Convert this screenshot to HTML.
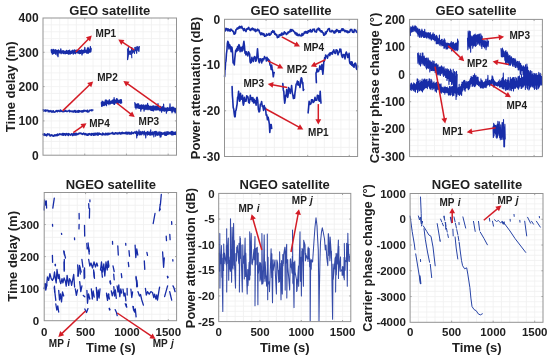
<!DOCTYPE html>
<html><head><meta charset="utf-8"><style>
html,body{margin:0;padding:0;background:#fff;}
svg{display:block;filter:blur(0.35px);}
</style></head><body>
<svg width="550" height="359" viewBox="0 0 550 359" font-family="'Liberation Sans', sans-serif" font-weight="bold">
<rect width="550" height="359" fill="#fff"/>
<path d="M51.34 18V155.2M59.69 18V155.2M68.03 18V155.2M76.38 18V155.2M84.72 18V155.2M93.06 18V155.2M101.41 18V155.2M109.75 18V155.2M118.09 18V155.2M126.44 18V155.2M134.78 18V155.2M143.12 18V155.2M151.47 18V155.2M159.81 18V155.2M168.16 18V155.2M43 24.86H176.5M43 31.72H176.5M43 38.58H176.5M43 45.44H176.5M43 52.3H176.5M43 59.16H176.5M43 66.02H176.5M43 72.88H176.5M43 79.74H176.5M43 86.6H176.5M43 93.46H176.5M43 100.32H176.5M43 107.18H176.5M43 114.04H176.5M43 120.9H176.5M43 127.76H176.5M43 134.62H176.5M43 141.48H176.5M43 148.34H176.5" stroke="#f0f0f0" stroke-width="0.8" fill="none"/>
<path d="M84.72 155.2v-1.6M84.72 18v1.6M126.44 155.2v-1.6M126.44 18v1.6M168.16 155.2v-1.6M168.16 18v1.6M43 52.3h1.6M176.5 52.3h-1.6M43 86.6h1.6M176.5 86.6h-1.6M43 120.9h1.6M176.5 120.9h-1.6" stroke="#939393" stroke-width="0.8" fill="none"/>
<path d="M232.82 19.3V156.5M241.14 19.3V156.5M249.46 19.3V156.5M257.77 19.3V156.5M266.09 19.3V156.5M274.41 19.3V156.5M282.73 19.3V156.5M291.05 19.3V156.5M299.37 19.3V156.5M307.69 19.3V156.5M316.01 19.3V156.5M324.33 19.3V156.5M332.64 19.3V156.5M340.96 19.3V156.5M349.28 19.3V156.5M224.5 28.45H357.6M224.5 37.59H357.6M224.5 46.74H357.6M224.5 55.89H357.6M224.5 65.03H357.6M224.5 74.18H357.6M224.5 83.33H357.6M224.5 92.47H357.6M224.5 101.62H357.6M224.5 110.77H357.6M224.5 119.91H357.6M224.5 129.06H357.6M224.5 138.21H357.6M224.5 147.35H357.6" stroke="#f0f0f0" stroke-width="0.8" fill="none"/>
<path d="M266.09 156.5v-1.6M266.09 19.3v1.6M307.69 156.5v-1.6M307.69 19.3v1.6M349.28 156.5v-1.6M349.28 19.3v1.6M224.5 65.03h1.6M357.6 65.03h-1.6M224.5 110.77h1.6M357.6 110.77h-1.6" stroke="#939393" stroke-width="0.8" fill="none"/>
<path d="M417.9 19.4V156.6M426.2 19.4V156.6M434.5 19.4V156.6M442.8 19.4V156.6M451.1 19.4V156.6M459.4 19.4V156.6M467.7 19.4V156.6M476 19.4V156.6M484.3 19.4V156.6M492.6 19.4V156.6M500.9 19.4V156.6M509.2 19.4V156.6M517.5 19.4V156.6M525.8 19.4V156.6M534.1 19.4V156.6M409.6 24.89H542.4M409.6 30.38H542.4M409.6 35.86H542.4M409.6 41.35H542.4M409.6 46.84H542.4M409.6 52.33H542.4M409.6 57.82H542.4M409.6 63.3H542.4M409.6 68.79H542.4M409.6 74.28H542.4M409.6 79.77H542.4M409.6 85.26H542.4M409.6 90.74H542.4M409.6 96.23H542.4M409.6 101.72H542.4M409.6 107.21H542.4M409.6 112.7H542.4M409.6 118.18H542.4M409.6 123.67H542.4M409.6 129.16H542.4M409.6 134.65H542.4M409.6 140.14H542.4M409.6 145.62H542.4M409.6 151.11H542.4" stroke="#f0f0f0" stroke-width="0.8" fill="none"/>
<path d="M451.1 156.6v-1.6M451.1 19.4v1.6M492.6 156.6v-1.6M492.6 19.4v1.6M534.1 156.6v-1.6M534.1 19.4v1.6M409.6 46.84h1.6M542.4 46.84h-1.6M409.6 74.28h1.6M542.4 74.28h-1.6M409.6 101.72h1.6M542.4 101.72h-1.6M409.6 129.16h1.6M542.4 129.16h-1.6" stroke="#939393" stroke-width="0.8" fill="none"/>
<path d="M52.48 192.5V320.7M60.75 192.5V320.7M69.03 192.5V320.7M77.3 192.5V320.7M85.57 192.5V320.7M93.85 192.5V320.7M102.12 192.5V320.7M110.4 192.5V320.7M118.67 192.5V320.7M126.95 192.5V320.7M135.22 192.5V320.7M143.5 192.5V320.7M151.77 192.5V320.7M160.05 192.5V320.7M168.32 192.5V320.7M44.2 198.91H176.6M44.2 205.32H176.6M44.2 211.73H176.6M44.2 218.14H176.6M44.2 224.55H176.6M44.2 230.96H176.6M44.2 237.37H176.6M44.2 243.78H176.6M44.2 250.19H176.6M44.2 256.6H176.6M44.2 263.01H176.6M44.2 269.42H176.6M44.2 275.83H176.6M44.2 282.24H176.6M44.2 288.65H176.6M44.2 295.06H176.6M44.2 301.47H176.6M44.2 307.88H176.6M44.2 314.29H176.6" stroke="#f0f0f0" stroke-width="0.8" fill="none"/>
<path d="M85.57 320.7v-1.6M85.57 192.5v1.6M126.95 320.7v-1.6M126.95 192.5v1.6M168.32 320.7v-1.6M168.32 192.5v1.6M44.2 224.55h1.6M176.6 224.55h-1.6M44.2 256.6h1.6M176.6 256.6h-1.6M44.2 288.65h1.6M176.6 288.65h-1.6" stroke="#939393" stroke-width="0.8" fill="none"/>
<path d="M226.96 193.4V321.6M235.21 193.4V321.6M243.47 193.4V321.6M251.72 193.4V321.6M259.98 193.4V321.6M268.24 193.4V321.6M276.49 193.4V321.6M284.75 193.4V321.6M293.01 193.4V321.6M301.26 193.4V321.6M309.52 193.4V321.6M317.77 193.4V321.6M326.03 193.4V321.6M334.29 193.4V321.6M342.54 193.4V321.6M218.7 198.53H350.8M218.7 203.66H350.8M218.7 208.78H350.8M218.7 213.91H350.8M218.7 219.04H350.8M218.7 224.17H350.8M218.7 229.3H350.8M218.7 234.42H350.8M218.7 239.55H350.8M218.7 244.68H350.8M218.7 249.81H350.8M218.7 254.94H350.8M218.7 260.06H350.8M218.7 265.19H350.8M218.7 270.32H350.8M218.7 275.45H350.8M218.7 280.58H350.8M218.7 285.7H350.8M218.7 290.83H350.8M218.7 295.96H350.8M218.7 301.09H350.8M218.7 306.22H350.8M218.7 311.34H350.8M218.7 316.47H350.8" stroke="#f0f0f0" stroke-width="0.8" fill="none"/>
<path d="M259.98 321.6v-1.6M259.98 193.4v1.6M301.26 321.6v-1.6M301.26 193.4v1.6M342.54 321.6v-1.6M342.54 193.4v1.6M218.7 219.04h1.6M350.8 219.04h-1.6M218.7 244.68h1.6M350.8 244.68h-1.6M218.7 270.32h1.6M350.8 270.32h-1.6M218.7 295.96h1.6M350.8 295.96h-1.6" stroke="#939393" stroke-width="0.8" fill="none"/>
<path d="M418.41 193.5V322.3M426.71 193.5V322.3M435.02 193.5V322.3M443.33 193.5V322.3M451.63 193.5V322.3M459.94 193.5V322.3M468.24 193.5V322.3M476.55 193.5V322.3M484.86 193.5V322.3M493.16 193.5V322.3M501.47 193.5V322.3M509.77 193.5V322.3M518.08 193.5V322.3M526.39 193.5V322.3M534.69 193.5V322.3M410.1 198.65H543M410.1 203.8H543M410.1 208.96H543M410.1 214.11H543M410.1 219.26H543M410.1 224.41H543M410.1 229.56H543M410.1 234.72H543M410.1 239.87H543M410.1 245.02H543M410.1 250.17H543M410.1 255.32H543M410.1 260.48H543M410.1 265.63H543M410.1 270.78H543M410.1 275.93H543M410.1 281.08H543M410.1 286.24H543M410.1 291.39H543M410.1 296.54H543M410.1 301.69H543M410.1 306.84H543M410.1 312H543M410.1 317.15H543" stroke="#f0f0f0" stroke-width="0.8" fill="none"/>
<path d="M451.63 322.3v-1.6M451.63 193.5v1.6M493.16 322.3v-1.6M493.16 193.5v1.6M534.69 322.3v-1.6M534.69 193.5v1.6M410.1 219.26h1.6M543 219.26h-1.6M410.1 245.02h1.6M543 245.02h-1.6M410.1 270.78h1.6M543 270.78h-1.6M410.1 296.54h1.6M543 296.54h-1.6" stroke="#939393" stroke-width="0.8" fill="none"/>
<polyline points="51.2,50.01 51.6,52.71 52,49.44 52.4,54.22 52.8,50.48 53.2,53.64 53.6,49.52 54,53.26 54.4,50.97 54.8,53.06 55.2,49.62 55.6,54.17 56,50.24 56.4,52.56 56.8,50.31 57.2,55.2 57.6,50.68 58,56.59 58.4,49.87 58.8,52.69 59.2,51.07 59.6,52.93 60,50.65 60.4,52.74 60.8,48.79 61.2,53.6 61.6,51.12 62,52.6 62.4,50.81 62.8,53.08 63.2,50.58 63.6,53.51 64,51.41 64.4,53.11 64.8,51.28 65.2,53.94 65.6,51.41 66,53.29 66.4,50.29 66.8,53.32 67.2,51.36 67.6,53.31 68,50.67 68.4,54.11 68.8,50.77 69.2,53.7 69.6,50.14 70,54.14 70.4,51.53 70.8,53.52 71.2,51.35 71.6,53.24 72,50.54 72.4,52.95 72.8,50.2 73.2,54.05 73.6,51.14 74,53.4 74.4,49.91 74.8,52.81 75.2,50.94 75.6,53.67 76,50.08 76.4,52.5 76.8,50.28 77.2,52.46 77.6,51.21 78,53.08 78.4,50.82 78.8,53.19 79.2,50.27 79.6,53.7 80,50.4 80.4,53.39 80.8,50.58 81.2,52.76 81.6,49.99 82,54.91 82.4,50.82 82.8,53.47 83.2,50.09 83.6,52.57 84,50.78 84.4,52.57 84.8,47.46 85.2,52.31 85.6,50.29 86,52.03 86.4,50.47 86.8,53.05 87.2,49.02 87.6,53 88,47.35 88.4,53.09 88.8,48.87 89.2,51.77 89.6,50.09 90,52.26 90.4,46.63 90.8,51.63 91.2,48.68" stroke="#172ca8" stroke-width="1.3" fill="none" stroke-linejoin="round" stroke-linecap="round" opacity="1"/>
<polyline points="128.4,47.4 128.95,53.71 129.5,50.9 130.05,55.02 130.6,50.73 131.15,54.34 131.7,47.02 132.25,53.58 132.8,49.52 133.35,52.47 133.9,49.25 134.45,53.78 135,47.04 135.55,51.2 136.1,46.82 136.65,53.53 137.2,46.21 137.75,50.6 138.3,46.69 138.85,51.67 139.4,46.48" stroke="#172ca8" stroke-width="1.0" fill="none" stroke-linejoin="round" stroke-linecap="round" opacity="1"/>
<polyline points="127.7,48.8 127.8,54 127.6,59.5 128.2,56 128.6,51" stroke="#172ca8" stroke-width="1.3" fill="none" stroke-linejoin="round" stroke-linecap="round" opacity="1"/>
<polyline points="131.6,54 131.8,57.8" stroke="#172ca8" stroke-width="1.1" fill="none" stroke-linejoin="round" stroke-linecap="round" opacity="1"/>
<polyline points="43.3,109.85 43.8,111.1 44.3,110.83 44.8,110.37 45.3,110.02 45.8,111.3 46.3,110.2 46.8,110.25 47.3,110.29 47.8,110.25 48.3,111.78 48.8,110.68 49.3,110.79 49.8,111.78 50.3,111.44 50.8,110.7 51.3,111.19 51.8,112.04 52.3,111.16 52.8,111.8 53.3,110.74 53.8,111.91 54.3,112.04 54.8,112.17 55.3,111.87 55.8,111.24 56.3,110.61 56.8,111.35 57.3,111.7 57.8,110.6 58.3,110.65 58.8,111.06 59.3,111.36 59.8,111.55 60.3,110.14 60.8,110.26 61.3,111.39 61.8,111.13 62.3,111.29 62.8,111.81 63.3,111.72 63.8,111.57 64.3,111.47 64.8,110.8 65.3,111.27 65.8,110.46 66.3,111.52 66.8,111.54 67.3,111.49 67.8,111.01 68.3,110.91 68.8,111.01 69.3,110.33 69.8,111.81 70.3,111.28 70.8,111.01 71.3,111.31 71.8,111.63 72.3,111.03 72.8,111.85 73.3,112.02 73.8,111.07 74.3,110.63 74.8,111.76 75.3,112.19 75.8,110.68 76.3,111.71 76.8,111.92 77.3,112.1 77.8,110.68 78.3,110.63 78.8,112.25 79.3,110.7 79.8,110.81 80.3,111.52 80.8,111.26 81.3,111.79 81.8,110.75 82.3,112.03 82.8,110.75 83.3,111.72 83.8,110.43 84.3,111.14 84.8,110.32 85.3,110.8 85.8,110.77 86.3,111.48 86.8,110.98 87.3,110.24 87.8,111.9 88.3,111.68 88.8,111.69 89.3,110.44 89.8,110.67 90.3,110.33 90.8,110.11 91.3,109.9 91.8,110.71 92.3,109.98 92.8,110.04" stroke="#172ca8" stroke-width="1.6" fill="none" stroke-linejoin="round" stroke-linecap="round" opacity="1"/>
<polyline points="101.3,102.65 101.7,106.34 102.1,101.1 102.5,105.86 102.9,101.68 103.3,105.36 103.7,101.99 104.1,105.67 104.5,101.99 104.9,105.2 105.3,100.15 105.7,104.5 106.1,99.73 106.5,105.77 106.9,100.56 107.3,103.73 107.7,101.1 108.1,103.44 108.5,100.97 108.9,104.75 109.3,99.72 109.7,103.76 110.1,101.22 110.5,103.82 110.9,101.2 111.3,103.13 111.7,100.78 112.1,103.35 112.5,99.98 112.9,103.18 113.3,99.73 113.7,104.06 114.1,97.71 114.5,104.37 114.9,99.88 115.3,102.91 115.7,100.34 116.1,103.14 116.5,98.53 116.9,102.93 117.3,98.95 117.7,103.64 118.1,100.45 118.5,103.19 118.9,100.16 119.3,102.56 119.7,100.04 120.1,102.84 120.5,99.66 120.9,103.42 121.3,99.66 121.7,102.77" stroke="#172ca8" stroke-width="1.2" fill="none" stroke-linejoin="round" stroke-linecap="round" opacity="1"/>
<polyline points="134.8,102.55 135.2,107.49 135.6,103.88 136,108.87 136.4,104.31 136.8,107.43 137.2,104.17 137.6,107.9 138,103.61 138.4,108.05 138.8,104.02 139.2,108.34 139.6,105.52 140,108.5 140.4,105.58 140.8,111.15 141.2,104.55 141.6,109.06 142,105.69 142.4,108.62 142.8,105.08 143.2,108.58 143.6,104.92 144,111.08 144.4,106.02 144.8,109.75 145.2,105.02 145.6,109.24 146,105.16 146.4,109.05 146.8,105.17 147.2,109.62 147.6,103.34 148,108.79 148.4,105.4 148.8,109.76 149.2,106.08 149.6,109.23 150,106.73 150.4,109.92 150.8,106.18 151.2,110.39 151.6,106.65 152,110.47 152.4,106.04 152.8,110.77 153.2,105.9 153.6,110.87 154,105.97 154.4,109.46 154.8,106.92 155.2,110.26 155.6,106.13 156,109.42 156.4,105.99 156.8,110.07 157.2,106.39 157.6,109.6 158,103.59 158.4,109.62 158.8,107.31 159.2,110.16 159.6,108.05 160,110.9 160.4,106.31 160.8,110.23 161.2,107.93 161.6,112.26 162,106.67 162.4,110.74 162.8,106.88 163.2,110.32 163.6,104.17 164,111.17 164.4,107.92 164.8,111.25 165.2,108.21 165.6,110.33 166,108 166.4,113.09 166.8,108.08 167.2,111.19 167.6,107.65 168,110.54 168.4,108.16 168.8,110.31 169.2,107.95 169.6,110.39 170,103.89 170.4,110.44 170.8,107.97 171.2,110.92 171.6,107.46 172,112.8 172.4,107.15 172.8,111.73 173.2,107.07 173.6,110.12 174,107.77 174.4,111.74 174.8,108.38 175.2,112.88 175.6,108.37 176,111.91" stroke="#172ca8" stroke-width="1.2" fill="none" stroke-linejoin="round" stroke-linecap="round" opacity="1"/>
<polyline points="43.2,134.34 43.7,135.15 44.2,133.81 44.7,134.22 45.2,135.34 45.7,134.69 46.2,134.68 46.7,135.74 47.2,134.48 47.7,133.95 48.2,134.68 48.7,134.23 49.2,134.12 49.7,135.12 50.2,135.93 50.7,135.24 51.2,135.44 51.7,134.85 52.2,135.41 52.7,135.83 53.2,135.56 53.7,136.05 54.2,135.6 54.7,134.96 55.2,135.71 55.7,135.4 56.2,134.62 56.7,135.4 57.2,135.66 57.7,134.17 58.2,134.86 58.7,135.11 59.2,134.31 59.7,133.92 60.2,134.05 60.7,134.4 61.2,134.71 61.7,134.47 62.2,133.58 62.7,135.02 63.2,135.24 63.7,133.61 64.2,133.93 64.7,133.79 65.2,135.15 65.7,135.29 66.2,133.57 66.7,134.17 67.2,133.9 67.7,134.47 68.2,135.39 68.7,133.7 69.2,133.92 69.7,134.57 70.2,134.64 70.7,135.05 71.2,134.4 71.7,133.78 72.2,134.18 72.7,135.4 73.2,134.91 73.7,133.61 74.2,134.96 74.7,133.94 75.2,134.85 75.7,133.28 76.2,134.97 76.7,133.52 77.2,134.08 77.7,134.46 78.2,134.12 78.7,133.41 79.2,133.33 79.7,133.59 80.2,133.11 80.7,133.46 81.2,133.31 81.7,134 82.2,133.8 82.7,134.28 83.2,133.69 83.7,133.22 84.2,133.83 84.7,134.7 85.2,133.72 85.7,134.04 86.2,134.76 86.7,134.08 87.2,135.06 87.7,135.14 88.2,133.95 88.7,134.82 89.2,133.87 89.7,133.67 90.2,134.27 90.7,134.58 91.2,135.22 91.7,133.62 92.2,134.74 92.7,134.24 93.2,133.54 93.7,135.2 94.2,134.62 94.7,133.47 95.2,135 95.7,133.38 96.2,133.34 96.7,133.8 97.2,134.99 97.7,133.16 98.2,134.91 98.7,134.28 99.2,133.17 99.7,134.15 100.2,133.91 100.7,134.1 101.2,134.43 101.7,134.29 102.2,134.91 102.7,133.21 103.2,134.5 103.7,133.67 104.2,134.4 104.7,134.6 105.2,134.78 105.7,133.3 106.2,133.66 106.7,134.62 107.2,134.6 107.7,133.44 108.2,134.55 108.7,133.46 109.2,133.38 109.7,134.13 110.2,133.54 110.7,133.48 111.2,133.35 111.7,133.43 112.2,132.84 112.7,132.67 113.2,134.04 113.7,133.65 114.2,133.86 114.7,134.11 115.2,132.96 115.7,132.95 116.2,133.03 116.7,133.07 117.2,133.98 117.7,133.19 118.2,133.08 118.7,133.7 119.2,132.79 119.7,132.62 120.2,133.79 120.7,133.88 121.2,132.94 121.7,133.6 122.2,132.38 122.7,133.1 123.2,133.43 123.7,132.76 124.2,132.93 124.7,133.43 125.2,133.37 125.7,132.48 126.2,133.57 126.7,132.29 127.2,134.05 127.7,132.5 128.2,132.58 128.7,132.45 129.2,134.01 129.7,132.59 130.2,133.21 130.7,133.98 131.2,133.9 131.7,132.08 132.2,133.04 132.7,133.2 133.2,133.4 133.7,132.67 134.2,132.66 134.7,132.01 135.2,132.07 135.7,133.1 136.2,132.15" stroke="#172ca8" stroke-width="1.7" fill="none" stroke-linejoin="round" stroke-linecap="round" opacity="1"/>
<polyline points="136.3,131.11 136.75,138.02 137.2,131.47 137.65,135.42 138.1,132.26 138.55,133.95 139,129.79 139.45,134.88 139.9,131.83 140.35,134.73 140.8,131.41 141.25,134.87 141.7,131.94 142.15,134.12 142.6,131.34 143.05,133.66 143.5,131.93 143.95,135.1 144.4,131.09 144.85,134.11 145.3,132.2 145.75,138.06 146.2,132.52 146.65,133.92 147.1,131.52 147.55,135.27 148,131.37 148.45,134.55 148.9,132.47 149.35,134.93 149.8,131.89 150.25,135.33 150.7,129.75 151.15,134.65 151.6,132.63 152.05,135.28 152.5,131.8 152.95,134.53 153.4,132.08 153.85,137 154.3,131.5 154.75,134.03 155.2,131.3 155.65,136.2 156.1,131.25 156.55,135.05 157,131.72 157.45,135.42 157.9,132.81 158.35,134.98 158.8,131.74 159.25,135.3 159.7,131.84 160.15,137.3 160.6,132.17 161.05,136.84 161.5,132.29 161.95,134.65 162.4,132.85 162.85,134.4 163.3,132.82 163.75,134.27 164.2,132.24 164.65,135.31 165.1,131.7 165.55,135.39 166,132.69 166.45,135.54 166.9,131.43 167.35,134.61 167.8,131.88 168.25,134.46 168.7,131.82 169.15,134.06 169.6,132.3 170.05,134.05 170.5,131.96 170.95,134.36 171.4,131.38 171.85,135.31 172.3,131.21 172.75,135 173.2,131.86 173.65,134.81 174.1,132.36 174.55,134.41 175,131.94 175.45,134.58 175.9,131.7 176.35,135.02" stroke="#172ca8" stroke-width="1.1" fill="none" stroke-linejoin="round" stroke-linecap="round" opacity="1"/>
<polyline points="224.8,30.1 225.38,30.83 225.95,28.43 226.53,29.65 227.1,28.8 227.73,30.72 228.37,29.06 229,30.7 229.62,29.85 230.25,31.09 230.88,29.18 231.5,30.1 232.15,30.31 232.8,31.4 233.43,31.31 234.07,34.07 234.7,33.9 235.33,33.23 235.97,29.8 236.6,29.5 237.23,28.09 237.87,28.91 238.5,27.5 239,28.16 239.5,26.48 240,27.8 240.57,26.71 241.13,27.78 241.7,26.3 242.35,28.24 243,28.8 243.62,30.51 244.25,28.5 244.88,30.52 245.5,30.7 246,31.59 246.5,29.01 247,29.5 247.57,28.5 248.13,28.94 248.7,27.5 249.35,29.11 250,30.1 250.62,30.46 251.25,28.7 251.88,29.32 252.5,28.2 253.17,29.61 253.83,28.98 254.5,30.7 255.13,29.38 255.77,31.53 256.4,30.1 257.02,30.7 257.65,29.25 258.27,30.37 258.9,30.1 259.55,32.35 260.2,33.3 260.82,34.56 261.45,32.92 262.07,34.46 262.7,33.3 263.35,34.86 264,33.98 264.65,36.24 265.3,35.8 265.93,36.04 266.55,33.96 267.18,35.17 267.8,34.5 268.45,34.88 269.1,33.46 269.75,35.23 270.4,34.5 271.02,33.96 271.65,31.81 272.27,32.22 272.9,30.7 273.55,32.33 274.2,31.27 274.85,34.25 275.5,33.9 276.12,35.02 276.75,34.62 277.38,37.58 278,37.1 278.62,37.19 279.25,34.74 279.88,35.51 280.5,34.5 281.15,35.37 281.8,33.03 282.45,34.78 283.1,33.3 283.73,34.28 284.37,31.94 285,33 285.67,32.91 286.33,34.47 287,33.7 287.52,33.64 288.05,32.11 288.58,32.72 289.1,31.6 289.78,31.97 290.45,29.69 291.12,31.33 291.8,29.6 292.5,30.54 293.2,30.47 293.9,31.6 294.55,32.01 295.2,33.7 295.76,32.73 296.32,34.81 296.88,33.33 297.44,35.31 298,34.4 298.68,35.62 299.35,34.39 300.02,35.58 300.7,35.5 301.38,35.89 302.05,33.62 302.72,35.33 303.4,34.1 303.92,33.79 304.45,32.13 304.98,32.88 305.5,31.6 306.17,32.93 306.83,31.66 307.5,33 308.17,30.85 308.83,31.81 309.5,30.3 310.02,31.16 310.55,29.75 311.08,32.01 311.6,31 312.27,31.53 312.93,29.32 313.6,29.6 314.3,29.16 315,31.7 315.7,31.6 316.38,32.01 317.05,29.35 317.72,29.44 318.4,28.2 318.92,29.85 319.45,28.68 319.98,30.92 320.5,30.3 321.17,31.86 321.83,30.84 322.5,32.3 323.17,32.85 323.83,35.18 324.5,35 325.02,34.48 325.55,32.04 326.08,33.62 326.6,31.6 327.27,31.28 327.93,29.41 328.6,28.9 329.3,28.62 330,31.46 330.7,31.6 331.37,31.79 332.03,30.42 332.7,31 333.23,30.98 333.75,32.68 334.27,31.57 334.8,33 335.47,30.65 336.13,31.83 336.8,29.6 337.5,30.93 338.2,30.64 338.9,32.3 339.57,30.86 340.23,32.26 340.9,30.3 341.42,30.3 341.95,28.81 342.48,30.46 343,28.9 343.67,30.47 344.33,30.17 345,31.6 345.67,30.56 346.33,31.79 347,31 347.52,32.55 348.05,31.3 348.58,32.45 349.1,32.3 349.77,31.75 350.43,29.5 351.1,29.6 351.8,29.7 352.5,32.13 353.2,31.6 353.87,32.36 354.53,29.5 355.2,30.3 355.8,30.44 356.4,31.89 357,32.3" stroke="#172ca8" stroke-width="1.7" fill="none" stroke-linejoin="round" stroke-linecap="round" opacity="1"/>
<polyline points="224.6,76.8 224.75,74.93 224.9,70 225.2,69.36 225.5,62.9 225.97,61.13 226.43,53.76 226.9,50.3 227.35,43.51 227.8,41.3 228.4,42.3 229,48.9 229.55,44.58 230.1,46.1 230.6,46.58 231.1,51.7 231.55,46.93 232,47.5 232.55,52.58 233.1,62.9 233.7,62.44 234.3,64.9 234.75,58.86 235.2,54.5 235.67,50.29 236.13,51.7 236.6,48.9 237.07,50.89 237.53,46.84 238,50.3 238.5,45.56 239,44.7 239.55,46.35 240.1,51.7 240.57,47.43 241.03,50.18 241.5,47.5 241.97,51.43 242.43,46.58 242.9,50.3 243.4,44.33 243.9,41.3 244.45,45.81 245,53.1 245.47,51.73 245.93,54.96 246.4,51.7 246.87,54.15 247.33,53.88 247.8,55.9 248.5,51.76 249.2,53.1 249.67,54.33 250.13,61.85 250.6,62.9 251.25,62.46 251.9,57.3 252.37,59.4 252.83,59.28 253.3,61.5 254,57.25 254.7,56.6 255.17,57.28 255.63,61.21 256.1,60.8 256.8,57.22 257.5,48.9 258.2,57.38 258.9,61.5 259.37,62.65 259.83,58.92 260.3,58.7 261,59.63 261.7,62.9 262.17,58.75 262.63,61 263.1,58.7 263.8,59.53 264.5,56.6 265.2,58.02 265.9,58 266.42,61.03 266.95,57.34 267.48,60.11 268,58.7 268.7,61.31 269.4,60.1 270.05,65.17 270.7,65.6 271.17,69.38 271.63,65.1 272.1,68.4 272.7,71.17 273.3,76.8 273.75,73.92 274.2,72.6" stroke="#172ca8" stroke-width="1.6" fill="none" stroke-linejoin="round" stroke-linecap="round" opacity="1"/>
<polyline points="232.1,86.6 232.4,95.5 232.7,99.2 233.2,107.43 233.7,109 234.2,113.63 234.7,116.8 235.15,116.64 235.6,110.9 236.1,110.11 236.6,107 237.1,104.08 237.6,97.3 238.1,96.45 238.6,91.4 239.05,98.65 239.5,101.2 240,100.67 240.5,93.4 241,98.85 241.5,99.2 242,99 242.5,95.3 242.95,102.82 243.4,105.1 243.9,103.15 244.4,97.3 244.9,101.05 245.4,101.2 246.03,101.24 246.67,95.91 247.3,96.3 247.97,97.12 248.63,102.17 249.3,103.1 249.8,100.28 250.3,95.3 250.93,99.14 251.57,97.76 252.2,101.2 252.87,97.58 253.53,102.85 254.2,99.2 254.83,102.78 255.47,100.77 256.1,105.1 256.6,98.07 257.1,97.3 257.73,100.51 258.37,109.22 259,111.9 259.67,111.19 260.33,104.25 261,104.1 261.63,101.48 262.27,106.49 262.9,106.1 263.57,110.37 264.23,105.54 264.9,109 265.53,108.09 266.17,115.27 266.8,114.8 267.47,119.81 268.13,117.17 268.8,120.7 269.3,123.94 269.8,132.4 270.25,127.1 270.7,124.6 271.2,124.49 271.7,128.5" stroke="#172ca8" stroke-width="1.6" fill="none" stroke-linejoin="round" stroke-linecap="round" opacity="1"/>
<polyline points="282.8,83.6 283.3,89.88 283.8,91.4 284.25,98.4 284.7,103.1 285.2,100 285.7,95.3 286.2,95.06 286.7,89.5 287.2,96.11 287.7,97.3 288.15,94.74 288.6,87.5 289.13,90.93 289.67,89.11 290.2,93.4 290.67,89.95 291.13,90.54 291.6,85.6 292.25,92.57 292.9,95.3 293.43,98.52 293.97,95.52 294.5,98.3 295,92.68 295.5,89.5 296.15,84.05 296.8,83.6 297.33,81.14 297.87,84.88 298.4,81.7 298.93,85.21 299.47,84.7 300,87.5 300.65,80.62 301.3,77.8 301.8,78.47 302.3,83.6 302.8,82.57 303.3,90.45 303.8,89.5" stroke="#172ca8" stroke-width="1.6" fill="none" stroke-linejoin="round" stroke-linecap="round" opacity="1"/>
<polyline points="308.1,112.9 308.6,107.59 309.1,101.2 309.8,104.45 310.5,104.1 311,103.7 311.5,99.83 312,100.2 312.53,99.76 313.07,102.54 313.6,102.2 314.3,101.05 315,97.3 315.65,100.12 316.3,100.2 316.83,100.23 317.37,95.37 317.9,95.3 318.4,95.63 318.9,100.35 319.4,101.2 319.8,97.93 320.2,91.4 320.6,98.3 321,103.1" stroke="#172ca8" stroke-width="1.6" fill="none" stroke-linejoin="round" stroke-linecap="round" opacity="1"/>
<polyline points="316.4,82.6 316.2,79.4 316,72.9 316.55,72.16 317.1,68.7 317.8,71.66 318.5,71.5 319.2,69.21 319.9,65.9 320.45,69.09 321,69.4 321.45,67.85 321.9,64.5 322.4,70.62 322.9,74.3 323.35,68.62 323.8,61.7 324.25,61.34 324.7,57.5 325.17,59.03 325.63,55.01 326.1,55.5 326.8,56.17 327.5,58.2 328.2,54.83 328.9,54.8 329.37,53.38 329.83,55.59 330.3,52.7 331,53.88 331.7,52.46 332.4,54.1 332.87,51.27 333.33,52.01 333.8,49.9 334.5,52.74 335.2,53.4 335.67,53.48 336.13,49.68 336.6,50.6 337.3,50.33 338,54.8 338.7,52.22 339.4,52 339.87,49.07 340.33,50.88 340.8,49.2 341.5,54.64 342.2,56.9 342.67,57.51 343.13,54.47 343.6,54.8 344.3,54.79 345,58.9 345.65,53.54 346.3,52 347,54.01 347.7,57.5 348.17,55.09 348.63,56.82 349.1,53.4 349.45,60.64 349.8,63.1 350.5,64.05 351.2,61.7 351.67,65.25 352.13,62.13 352.6,65.9 353.3,64.7 354,67.3 354.7,63.48 355.4,63.1 355.87,64.3 356.33,68.49 356.8,69.4 357.15,69.33 357.5,65.9" stroke="#172ca8" stroke-width="1.6" fill="none" stroke-linejoin="round" stroke-linecap="round" opacity="1"/>
<polyline points="410,28.56 410.35,35.48 410.7,26.81 411.05,32.39 411.4,27.19 411.75,31.66 412.1,27.1 412.45,31.58 412.8,25.79 413.15,29.84 413.5,27.22 413.85,31.35 414.2,26.95 414.55,30.13 414.9,25.91 415.25,30.87 415.6,26.06 415.95,31.84 416.3,26.71 416.65,32.23 417,29.25 417.35,33.77 417.7,28.09 418.05,36.18 418.4,30.35 418.75,34.41 419.1,29.13 419.45,37.2 419.8,29.5 420.15,37.2 420.5,31.88 420.85,34.79 421.2,30.8 421.55,37.24 421.9,28.93 422.25,36.35 422.6,30.84 422.95,35.33 423.3,31.46 423.65,37.39 424,31.53 424.35,37.4 424.7,29.28 425.05,37.19 425.4,32.36 425.75,36.88 426.1,33.8 426.45,38 426.8,32.2 427.15,37.88 427.5,34.11 427.85,36.49 428.2,32.67 428.55,37.73 428.9,33.07 429.25,38.88 429.6,33.34 429.95,37.63 430.3,32.6 430.65,39 431,34.7 431.35,40.23 431.7,35.23 432.05,39.22 432.4,34.35 432.75,38.94 433.1,32.88 433.45,39.43 433.8,34.98 434.15,40.03 434.5,34.32 434.85,40.94 435.2,35.79 435.55,40.28 435.9,36.93 436.25,43.65 436.6,35.3 436.95,43.72 437.3,36.72 437.65,43.46 438,38.85 438.35,43.9 438.7,38.57 439.05,43.07 439.4,35.1 439.75,45.28 440.1,40.39 440.45,43.81 440.8,40.66 441.15,45.95 441.5,39.4 441.85,44.44 442.2,39.22 442.55,45.82 442.9,41.91 443.25,45.41 443.6,40.25 443.95,48.34 444.3,38.85 444.65,47.99 445,40.09 445.35,46.71 445.7,42.76 446.05,48.97 446.4,43.57 446.75,48.9 447.1,42.92 447.45,48.88 447.8,43.58 448.15,47.94 448.5,43.26 448.85,47.72 449.2,43.94 449.55,47.85 449.9,43.51 450.25,46.85 450.6,43.09 450.95,47.16 451.3,41.57 451.65,51 452,43.45 452.35,49.44 452.7,42.57 453.05,49.25 453.4,42.34 453.75,49.26 454.1,43.68 454.45,49.7 454.8,44.06 455.15,50.38 455.5,43.29 455.85,49.23 456.2,42.81 456.55,49.91 456.9,43.53 457.25,50.72 457.6,39 457.95,49.69 458.3,40.95" stroke="#172ca8" stroke-width="1.1" fill="none" stroke-linejoin="round" stroke-linecap="round" opacity="1"/>
<polyline points="467.5,38.28 467.85,49.76 468.2,30.94 468.55,46.21 468.9,32.95 469.25,48.14 469.6,31.11 469.95,46.67 470.3,31.44 470.65,52.24 471,35.75 471.35,45.54 471.7,36.82 472.05,44.7 472.4,36.88 472.75,48.14 473.1,35.84 473.45,45.94 473.8,35.06 474.15,45.14 474.5,34.72 474.85,45.62 475.2,33.97 475.55,46.35 475.9,35.48 476.25,45.48 476.6,35.25 476.95,41.54 477.3,34.55 477.65,44.12 478,35.48 478.35,42.75 478.7,34.22 479.05,43.86 479.4,34.05 479.75,45.25 480.1,38.08 480.45,42.36 480.8,33.91 481.15,46.25 481.5,35.71 481.85,48.37 482.2,36.41 482.55,44.6 482.9,39.91 483.25,46.48 483.6,40.69 483.95,46.69 484.3,41.09 484.65,47.9 485,40.37 485.35,46.26 485.7,41.65 486.05,49.69 486.4,42.2 486.75,47.06 487.1,38.96 487.45,45.28 487.8,42.05 488.15,46.41 488.5,41.07" stroke="#172ca8" stroke-width="1.1" fill="none" stroke-linejoin="round" stroke-linecap="round" opacity="1"/>
<polyline points="417.6,53.66 417.93,63.23 418.26,52.91 418.59,60.95 418.92,55.32 419.25,64.68 419.58,56.84 419.91,63.56 420.24,53.36 420.57,65.98 420.9,56.28 421.23,61.38 421.56,57.31 421.89,63.66 422.22,53.03 422.55,62.63 422.88,52.99 423.21,64.93 423.54,57.3 423.87,63.24 424.2,56.06 424.53,65.7 424.86,58.14 425.19,63.69 425.52,58.52 425.85,67.12 426.18,58.53 426.51,68.88 426.84,57.91 427.17,67.77 427.5,61.6 427.83,67.87 428.16,58.05 428.49,68.35 428.82,60.11 429.15,67.7 429.48,61.01 429.81,71.87 430.14,60.9 430.47,68.56 430.8,62.23 431.13,70.57 431.46,62.03 431.79,70.46 432.12,64.18 432.45,70.2 432.78,60.84 433.11,70.64 433.44,64.14 433.77,70.49 434.1,61.37 434.43,70.42 434.76,64.23 435.09,72.54 435.42,64.26 435.75,70.97 436.08,63.6 436.41,73.17 436.74,64.09 437.07,73.71 437.4,65.52 437.73,74.84 438.06,64.88 438.39,73.63 438.72,68.02 439.05,74.97 439.38,67.18 439.71,72.81 440.04,66.76 440.37,75.49 440.7,68.12 441.03,73.7 441.36,65.92 441.69,73.15 442.02,66.62 442.35,72.75 442.68,67.83 443.01,74.95 443.34,68.1 443.67,76.5 444,66.68 444.33,74.8 444.66,70.64 444.99,75.47 445.32,68.78 445.65,77.45 445.98,71.49 446.31,77.38 446.64,68.98 446.97,80.54 447.3,68.7 447.63,78.69 447.96,71.06 448.29,78.55 448.62,69.48 448.95,84.4 449.28,71.16 449.61,80.18 449.94,71.56 450.27,81.51 450.6,69.1 450.93,81.23 451.26,70.59 451.59,84.56 451.92,72.73 452.25,82.13 452.58,73.51 452.91,84.18 453.24,69.41 453.57,85.65 453.9,74.69 454.23,89.77 454.56,71.48 454.89,88.93 455.22,72.33 455.55,90.37 455.88,77.03 456.21,88 456.54,71.42 456.87,87.47 457.2,74.47" stroke="#172ca8" stroke-width="1.1" fill="none" stroke-linejoin="round" stroke-linecap="round" opacity="1"/>
<polyline points="410.2,85.03 410.55,89.75 410.9,83.5 411.25,90.53 411.6,83.03 411.95,88.77 412.3,84.71 412.65,89.41 413,84.79 413.35,90.69 413.7,82.77 414.05,89.57 414.4,83.56 414.75,91.32 415.1,84.12 415.45,92.1 415.8,84.91 416.15,89.17 416.5,82.57 416.85,89.47 417.2,78.81 417.55,92.6 417.9,79.33 418.25,89.15 418.6,81.29 418.95,91.16 419.3,84 419.65,90.46 420,80.22 420.35,89.47 420.7,82.88 421.05,90.6 421.4,81.4 421.75,90.85 422.1,78.94 422.45,91.96 422.8,82.1 423.15,90.22 423.5,80.13 423.85,89.48 424.2,78.98 424.55,88.52 424.9,78.94 425.25,87.93 425.6,80.24 425.95,87.42 426.3,79.84 426.65,87.38 427,79.28 427.35,88.7 427.7,81.92 428.05,86.47 428.4,81.3 428.75,85.93 429.1,78.89 429.45,87.9 429.8,79.12 430.15,89.05 430.5,81.94 430.85,89.11 431.2,79.25 431.55,87.49 431.9,80.74 432.25,89.68 432.6,83.39 432.95,87.52 433.3,82.82 433.65,89.02 434,81.82 434.35,87.86 434.7,83.78 435.05,90.98 435.4,83.27 435.75,91.03 436.1,82.48 436.45,92.19 436.8,82.05 437.15,88.9 437.5,84.99 437.85,89.73 438.2,82.4 438.55,89.34 438.9,83.5 439.25,89.68 439.6,84.19 439.95,91.43 440.3,84.69 440.65,92.82 441,83.77 441.35,93.28 441.7,87.14 442.05,92.01 442.4,87.36 442.75,91.85 443.1,88.9 443.45,92.56 443.8,87.01 444.15,92.48 444.5,87.13 444.85,94.22 445.2,86.67 445.55,92.38 445.9,87.57 446.25,92.23 446.6,87.51 446.95,92.85 447.3,86.94 447.65,92.78 448,88.81 448.35,94.96 448.7,88.37 449.05,95.34 449.4,86.49 449.75,94.35 450.1,86.32 450.45,95.31 450.8,87.81 451.15,92.27 451.5,86.84 451.85,94.52 452.2,86.6 452.55,95.88 452.9,86.52 453.25,95.3 453.6,85.69 453.95,95.54 454.3,86.54 454.65,92.7 455,87.83 455.35,93.25 455.7,85.34 456.05,99.47 456.4,87.64 456.75,96.46 457.1,87.14 457.45,92.7 457.8,88.83 458.15,94.69 458.5,87.47 458.85,94.25 459.2,84.22 459.55,95.44 459.9,87.49 460.25,94.02 460.6,86.55 460.95,94.11 461.3,84.59 461.65,95.42 462,82 462.35,91.18 462.7,82.43 463.05,89.93 463.4,81.15 463.75,87.75 464.1,80.16 464.45,89.99 464.8,80.47 465.15,91.35 465.5,83.15 465.85,88.38 466.2,81.25 466.55,87.66 466.9,83.06 467.25,87.41 467.6,81.72 467.95,88.89 468.3,81.48 468.65,89.8 469,81.56 469.35,88.8 469.7,80.07 470.05,86.89 470.4,78.6 470.75,84.27 471.1,76.17 471.45,83.48 471.8,77.21 472.15,86.51 472.5,77.43 472.85,86.03 473.2,75.51 473.55,85.02 473.9,75.57 474.25,86.45 474.6,73.82 474.95,86.75 475.3,75.92 475.65,85.44 476,75.41 476.35,83.61 476.7,77.89 477.05,84.54 477.4,77.03 477.75,84.37 478.1,77.22 478.45,85.78 478.8,81.08 479.15,85.01 479.5,82.14 479.85,86.67 480.2,82.16 480.55,88.04 480.9,78.83 481.25,87.24 481.6,80.17 481.95,87.91 482.3,80.86 482.65,87.91 483,82.35 483.35,88.27 483.7,82.88 484.05,86.85 484.4,82.13 484.75,87.48 485.1,81.23 485.45,87.31 485.8,79.17 486.15,87.67 486.5,81.51 486.85,85.98 487.2,78.98 487.55,84.91 487.9,75.21 488.25,84.73 488.6,81.18 488.95,84.48 489.3,80.35 489.65,86.28 490,80.28 490.35,84.44 490.7,81.38 491.05,85.47 491.4,79.47 491.75,84.29 492.1,75.73 492.45,82.89 492.8,76.77 493.15,85.65 493.5,79.15 493.85,87.12 494.2,80.81 494.55,86.16 494.9,81.26 495.25,84.45 495.6,82.58 495.95,85.59 496.3,82.73 496.65,85.43 497,82.6 497.35,86.1 497.7,82.88 498.05,85.84 498.4,81.07 498.75,85.51 499.1,82.63 499.45,87.29 499.8,79.83 500.15,86.66 500.5,81.53 500.85,87.12 501.2,80.84 501.55,86.8 501.9,78.59 502.25,88.48 502.6,77.65 502.95,88.18 503.3,72.97 503.65,88.98 504,80.21 504.35,86.41 504.7,80.97 505.05,89.22 505.4,79.38 505.75,90.47 506.1,82.65 506.45,89.18 506.8,80.14 507.15,89.78 507.5,80.04 507.85,89.54 508.2,77.61 508.55,88.95 508.9,80.88 509.25,90.32 509.6,83.2 509.95,87.01 510.3,77.33 510.65,89.97 511,79.53 511.35,90.67 511.7,78.99 512.05,88.81 512.4,77.92 512.75,88.4 513.1,77.4 513.45,90.98 513.8,77.45 514.15,87.71 514.5,79.58 514.85,88.61 515.2,77.27 515.55,88.24 515.9,81.68 516.25,86.36 516.6,78.06 516.95,87.18 517.3,81.34 517.65,88.07 518,76.9 518.35,89.27 518.7,76.47 519.05,88.06 519.4,75.81 519.75,86.18 520.1,78.58 520.45,86 520.8,78.23 521.15,88.49 521.5,74.41 521.85,88.17 522.2,77.75 522.55,86.94 522.9,77.34 523.25,86.99 523.6,76.77 523.95,85.61 524.3,76.04 524.65,84.6 525,75.75 525.35,89.58 525.7,77.42 526.05,87.74 526.4,78.8 526.75,85.01 527.1,75.47 527.45,88.9 527.8,74.6 528.15,84.42 528.5,70.82 528.85,89.93 529.2,75.84 529.55,88.99 529.9,74.34 530.25,87.18 530.6,75.54 530.95,86.75 531.3,76.32 531.65,85.06 532,79.28 532.35,87.01 532.7,78.39 533.05,86.02 533.4,76.4 533.75,87.82 534.1,79.88 534.45,89.37 534.8,78.38 535.15,85.1 535.5,75.09 535.85,88.5 536.2,79.24 536.55,89.44 536.9,77.07 537.25,84.97 537.6,79.94 537.95,88.89 538.3,77.99 538.65,88.18 539,77.06 539.35,86.98 539.7,76.34 540.05,85.38 540.4,78.53 540.75,83.36 541.1,79.25 541.45,84.43 541.8,77.14 542.15,84.37" stroke="#172ca8" stroke-width="1.05" fill="none" stroke-linejoin="round" stroke-linecap="round" opacity="1"/>
<polyline points="501,48.51 501.35,56.57 501.7,50.2 502.05,56.86 502.4,48.05 502.75,56.76 503.1,49.72 503.45,56.43 503.8,51.24 504.15,56.72 504.5,53.33 504.85,60.16 505.2,51.45 505.55,63.53 505.9,50.46 506.25,64.18 506.6,52.69 506.95,61.65 507.3,52.17 507.65,62.71 508,54.03 508.35,63.28 508.7,56.19 509.05,65.11 509.4,55.67 509.75,64.89 510.1,55.75 510.45,65.31 510.8,58.02 511.15,62.2 511.5,56.69 511.85,63.99 512.2,59.41 512.55,65.87 512.9,58.21 513.25,64.1 513.6,58.54 513.95,66.42 514.3,59.93 514.65,64.71 515,58.54 515.35,67.42 515.7,60.06 516.05,67.48 516.4,62.43 516.75,65.67 517.1,61.63 517.45,67.27 517.8,61.37 518.15,69.69 518.5,63.33 518.85,69.93 519.2,61.33 519.55,68.81 519.9,63.18 520.25,74.24 520.6,63.33 520.95,74.27 521.3,65.34 521.65,70.82 522,65.96 522.35,70.57 522.7,67.82 523.05,74.58 523.4,65.8 523.75,77.12 524.1,67.01 524.45,77.89 524.8,66.94 525.15,78.92 525.5,64.73 525.85,79.81 526.2,68.13 526.55,80.62 526.9,63.99 527.25,80.82 527.6,66.93 527.95,80.18 528.3,70.5 528.65,85.41 529,71.12 529.35,79.19 529.7,73.33 530.05,80.13 530.4,70.67 530.75,83.41 531.1,75.26 531.45,85.08 531.8,71.38 532.15,84.04 532.5,74.04 532.85,85.48 533.2,75.75 533.55,81.1 533.9,73.23 534.25,83.85 534.6,73.7 534.95,84.57 535.3,73.88 535.65,83.48 536,75.72 536.35,83.55 536.7,73.54 537.05,83.76 537.4,75.67 537.75,81.86 538.1,75.29 538.45,81.18 538.8,72.26 539.15,82.6 539.5,75.21 539.85,80.83 540.2,73.2 540.55,84.25 540.9,75.55 541.25,81.14 541.6,76.53 541.95,85.18" stroke="#172ca8" stroke-width="1.1" fill="none" stroke-linejoin="round" stroke-linecap="round" opacity="1"/>
<polyline points="493,126.69 493.35,137.55 493.7,123.32 494.05,135.85 494.4,124.9 494.75,132.48 495.1,125.33 495.45,133.9 495.8,125.5 496.15,137.31 496.5,125.69 496.85,138.21 497.2,124.32 497.55,137.14 497.9,121.28 498.25,133.18 498.6,125.16 498.95,135.18 499.3,121.74 499.65,137.65 500,127.96 500.35,139.64 500.7,124.79 501.05,137.68 501.4,130.21 501.75,139.49 502.1,122.57 502.45,137.05 502.8,122.73 503.15,139.23 503.5,119.45 503.85,146.75 504.2,127.18 504.55,146.84 504.9,124.4 505.25,139" stroke="#172ca8" stroke-width="1.1" fill="none" stroke-linejoin="round" stroke-linecap="round" opacity="1"/>
<polyline points="44.2,210 44.6,200 45.5,205 46.3,201 46.6,208" stroke="#172ca8" stroke-width="1.3" fill="none" stroke-linejoin="round" stroke-linecap="round" opacity="1"/>
<polyline points="54.3,198.1 52.8,208.1" stroke="#172ca8" stroke-width="1.3" fill="none" stroke-linejoin="round" stroke-linecap="round" opacity="1"/>
<polyline points="52.5,224.4 52.6,226.2" stroke="#172ca8" stroke-width="1.3" fill="none" stroke-linejoin="round" stroke-linecap="round" opacity="1"/>
<polyline points="61.5,233.4 61.7,234.3" stroke="#172ca8" stroke-width="1.3" fill="none" stroke-linejoin="round" stroke-linecap="round" opacity="1"/>
<polyline points="74.5,237.9 74.6,239.7" stroke="#172ca8" stroke-width="1.3" fill="none" stroke-linejoin="round" stroke-linecap="round" opacity="1"/>
<polyline points="79.1,213.5 79.2,218.9" stroke="#172ca8" stroke-width="1.3" fill="none" stroke-linejoin="round" stroke-linecap="round" opacity="1"/>
<polyline points="79.1,224.4 79,228.9" stroke="#172ca8" stroke-width="1.3" fill="none" stroke-linejoin="round" stroke-linecap="round" opacity="1"/>
<polyline points="84.5,225.3 84.7,236.1" stroke="#172ca8" stroke-width="1.3" fill="none" stroke-linejoin="round" stroke-linecap="round" opacity="1"/>
<polyline points="89.9,200 89.9,201.8" stroke="#172ca8" stroke-width="1.3" fill="none" stroke-linejoin="round" stroke-linecap="round" opacity="1"/>
<polyline points="88.7,203.6 88.9,208.1 89.6,208.5 89.4,218" stroke="#172ca8" stroke-width="1.3" fill="none" stroke-linejoin="round" stroke-linecap="round" opacity="1"/>
<polyline points="86.8,243.3 87.2,249 88.4,247 89.4,251.5" stroke="#172ca8" stroke-width="1.3" fill="none" stroke-linejoin="round" stroke-linecap="round" opacity="1"/>
<polyline points="64,251.5 64.4,255" stroke="#172ca8" stroke-width="1.3" fill="none" stroke-linejoin="round" stroke-linecap="round" opacity="1"/>
<polyline points="52.4,255.3 52.6,262.3" stroke="#172ca8" stroke-width="1.3" fill="none" stroke-linejoin="round" stroke-linecap="round" opacity="1"/>
<polyline points="55.2,264.4 55.3,265.8" stroke="#172ca8" stroke-width="1.3" fill="none" stroke-linejoin="round" stroke-linecap="round" opacity="1"/>
<polyline points="63.8,251 65.5,258" stroke="#172ca8" stroke-width="1.3" fill="none" stroke-linejoin="round" stroke-linecap="round" opacity="1"/>
<polyline points="64.3,259.5 64.4,270" stroke="#172ca8" stroke-width="1.3" fill="none" stroke-linejoin="round" stroke-linecap="round" opacity="1"/>
<polyline points="77.7,265 78.2,276" stroke="#172ca8" stroke-width="1.3" fill="none" stroke-linejoin="round" stroke-linecap="round" opacity="1"/>
<polyline points="79.6,267 80.3,274" stroke="#172ca8" stroke-width="1.3" fill="none" stroke-linejoin="round" stroke-linecap="round" opacity="1"/>
<polyline points="81.9,259.5 82.9,267.2" stroke="#172ca8" stroke-width="1.3" fill="none" stroke-linejoin="round" stroke-linecap="round" opacity="1"/>
<polyline points="84.5,267.9 84.7,277.6" stroke="#172ca8" stroke-width="1.3" fill="none" stroke-linejoin="round" stroke-linecap="round" opacity="1"/>
<polyline points="88.1,242.8 89.2,254" stroke="#172ca8" stroke-width="1.3" fill="none" stroke-linejoin="round" stroke-linecap="round" opacity="1"/>
<polyline points="88.7,259.5 89.8,266 91,263 92.5,268 94,262 95.5,267 96.8,263 97.7,266" stroke="#172ca8" stroke-width="1.3" fill="none" stroke-linejoin="round" stroke-linecap="round" opacity="1"/>
<polyline points="93.8,272 94.5,278.3" stroke="#172ca8" stroke-width="1.3" fill="none" stroke-linejoin="round" stroke-linecap="round" opacity="1"/>
<polyline points="100.5,270 101.5,262 102.6,272 103.8,264 104.8,276 106,262 107.2,270 108.2,261 108.9,266" stroke="#172ca8" stroke-width="1.3" fill="none" stroke-linejoin="round" stroke-linecap="round" opacity="1"/>
<polyline points="110.2,281 110.3,283" stroke="#172ca8" stroke-width="1.3" fill="none" stroke-linejoin="round" stroke-linecap="round" opacity="1"/>
<polyline points="84,270 84.2,278.7" stroke="#172ca8" stroke-width="1.3" fill="none" stroke-linejoin="round" stroke-linecap="round" opacity="1"/>
<polyline points="93.6,270 94.3,277.2" stroke="#172ca8" stroke-width="1.3" fill="none" stroke-linejoin="round" stroke-linecap="round" opacity="1"/>
<polyline points="101.6,270 102.4,277.2" stroke="#172ca8" stroke-width="1.3" fill="none" stroke-linejoin="round" stroke-linecap="round" opacity="1"/>
<polyline points="44.1,288.7 45.3,283.7 46.6,286.2 47.4,277 48.7,280.4 49.9,273.7 51.2,278.7 52.4,280.4 53.7,277.9 54.5,272 55.4,278.7 56.2,282.9 57,269.5 58.3,278.7 59.1,274.5 60,281.2 60.8,283.7 62,278.7 62.9,282.9 64.1,277.9 65.4,281.2 66.2,286.2 67.1,275.4 67.9,280.4 68.7,285.4 69.6,278.7 70.8,281.2 71.6,285.4 72.9,278.7 73.7,274.5 74.6,287" stroke="#172ca8" stroke-width="1.3" fill="none" stroke-linejoin="round" stroke-linecap="round" opacity="1"/>
<polyline points="44.6,284 45.8,290 46.8,285" stroke="#172ca8" stroke-width="1.3" fill="none" stroke-linejoin="round" stroke-linecap="round" opacity="1"/>
<polyline points="64.1,262 64.2,271.2" stroke="#172ca8" stroke-width="1.3" fill="none" stroke-linejoin="round" stroke-linecap="round" opacity="1"/>
<polyline points="54.5,286.2 54.6,292" stroke="#172ca8" stroke-width="1.3" fill="none" stroke-linejoin="round" stroke-linecap="round" opacity="1"/>
<polyline points="55.4,264.5 55.5,265.3" stroke="#172ca8" stroke-width="1.3" fill="none" stroke-linejoin="round" stroke-linecap="round" opacity="1"/>
<polyline points="77.9,276.2 79.5,265.3 81.2,272" stroke="#172ca8" stroke-width="1.3" fill="none" stroke-linejoin="round" stroke-linecap="round" opacity="1"/>
<polyline points="54.3,287.4 55.8,300.4" stroke="#172ca8" stroke-width="1.3" fill="none" stroke-linejoin="round" stroke-linecap="round" opacity="1"/>
<polyline points="55.8,304 56.8,310 57.8,306 58.7,312" stroke="#172ca8" stroke-width="1.3" fill="none" stroke-linejoin="round" stroke-linecap="round" opacity="1"/>
<polyline points="58.7,290.3 59.5,300 60.5,294 61.5,301.9 62.5,292 63.7,296" stroke="#172ca8" stroke-width="1.3" fill="none" stroke-linejoin="round" stroke-linecap="round" opacity="1"/>
<polyline points="75.3,288.8 76.4,295.4 77.5,290" stroke="#172ca8" stroke-width="1.3" fill="none" stroke-linejoin="round" stroke-linecap="round" opacity="1"/>
<polyline points="79.7,281.6 80.8,291.7 81.9,286" stroke="#172ca8" stroke-width="1.3" fill="none" stroke-linejoin="round" stroke-linecap="round" opacity="1"/>
<polyline points="83.3,295.4 84.8,296.8" stroke="#172ca8" stroke-width="1.3" fill="none" stroke-linejoin="round" stroke-linecap="round" opacity="1"/>
<polyline points="84.8,309 86.5,312.5 88,308.6" stroke="#172ca8" stroke-width="1.3" fill="none" stroke-linejoin="round" stroke-linecap="round" opacity="1"/>
<polyline points="86.9,290.3 87.5,303.3 88.5,294 89.8,299" stroke="#172ca8" stroke-width="1.3" fill="none" stroke-linejoin="round" stroke-linecap="round" opacity="1"/>
<polyline points="91.3,288.8 92.3,299 93.2,291 94.2,297" stroke="#172ca8" stroke-width="1.3" fill="none" stroke-linejoin="round" stroke-linecap="round" opacity="1"/>
<polyline points="96.3,287.4 97.2,300.4 98.2,290 99.1,298 100,289" stroke="#172ca8" stroke-width="1.3" fill="none" stroke-linejoin="round" stroke-linecap="round" opacity="1"/>
<polyline points="106.5,293.2 107.5,300.4 108.4,294 109.4,299" stroke="#172ca8" stroke-width="1.3" fill="none" stroke-linejoin="round" stroke-linecap="round" opacity="1"/>
<polyline points="109.4,308.4 109.5,309.9" stroke="#172ca8" stroke-width="1.3" fill="none" stroke-linejoin="round" stroke-linecap="round" opacity="1"/>
<polyline points="161.3,194.5 160.4,204.5" stroke="#172ca8" stroke-width="1.3" fill="none" stroke-linejoin="round" stroke-linecap="round" opacity="1"/>
<polyline points="160.2,204.5 159.4,210.8 160.4,209" stroke="#172ca8" stroke-width="1.3" fill="none" stroke-linejoin="round" stroke-linecap="round" opacity="1"/>
<polyline points="155,213.5 153.2,223.5" stroke="#172ca8" stroke-width="1.3" fill="none" stroke-linejoin="round" stroke-linecap="round" opacity="1"/>
<polyline points="171.6,221.6 171.8,224.4" stroke="#172ca8" stroke-width="1.3" fill="none" stroke-linejoin="round" stroke-linecap="round" opacity="1"/>
<polyline points="166.2,236.1 166.5,240.6" stroke="#172ca8" stroke-width="1.3" fill="none" stroke-linejoin="round" stroke-linecap="round" opacity="1"/>
<polyline points="169.8,234.3 170.1,239.7" stroke="#172ca8" stroke-width="1.3" fill="none" stroke-linejoin="round" stroke-linecap="round" opacity="1"/>
<polyline points="112.5,241.5 112.6,244.2" stroke="#172ca8" stroke-width="1.3" fill="none" stroke-linejoin="round" stroke-linecap="round" opacity="1"/>
<polyline points="117.8,246 118.3,255" stroke="#172ca8" stroke-width="1.3" fill="none" stroke-linejoin="round" stroke-linecap="round" opacity="1"/>
<polyline points="125.7,243.3 125.8,245.2" stroke="#172ca8" stroke-width="1.3" fill="none" stroke-linejoin="round" stroke-linecap="round" opacity="1"/>
<polyline points="129,250.6 129.5,256.1" stroke="#172ca8" stroke-width="1.3" fill="none" stroke-linejoin="round" stroke-linecap="round" opacity="1"/>
<polyline points="135.1,245.2 135.8,257.5 136.8,249 137.8,255" stroke="#172ca8" stroke-width="1.3" fill="none" stroke-linejoin="round" stroke-linecap="round" opacity="1"/>
<polyline points="146.9,252.4 147.5,255.4" stroke="#172ca8" stroke-width="1.3" fill="none" stroke-linejoin="round" stroke-linecap="round" opacity="1"/>
<polyline points="162.6,252 163.6,267.3 164.3,258" stroke="#172ca8" stroke-width="1.3" fill="none" stroke-linejoin="round" stroke-linecap="round" opacity="1"/>
<polyline points="172.8,259.6 172.9,261" stroke="#172ca8" stroke-width="1.3" fill="none" stroke-linejoin="round" stroke-linecap="round" opacity="1"/>
<polyline points="108,261.7 108.6,267.3" stroke="#172ca8" stroke-width="1.3" fill="none" stroke-linejoin="round" stroke-linecap="round" opacity="1"/>
<polyline points="113,265.9 114.2,271.5" stroke="#172ca8" stroke-width="1.3" fill="none" stroke-linejoin="round" stroke-linecap="round" opacity="1"/>
<polyline points="128.3,262.4 128.8,266.6" stroke="#172ca8" stroke-width="1.3" fill="none" stroke-linejoin="round" stroke-linecap="round" opacity="1"/>
<polyline points="144.3,261 144.8,269.4" stroke="#172ca8" stroke-width="1.3" fill="none" stroke-linejoin="round" stroke-linecap="round" opacity="1"/>
<polyline points="113.7,274.2 114.2,279.8" stroke="#172ca8" stroke-width="1.3" fill="none" stroke-linejoin="round" stroke-linecap="round" opacity="1"/>
<polyline points="121.3,273.6 121.8,277.7" stroke="#172ca8" stroke-width="1.3" fill="none" stroke-linejoin="round" stroke-linecap="round" opacity="1"/>
<polyline points="136,276.3 137,286.8" stroke="#172ca8" stroke-width="1.3" fill="none" stroke-linejoin="round" stroke-linecap="round" opacity="1"/>
<polyline points="110.2,281.2 110.7,283.9" stroke="#172ca8" stroke-width="1.3" fill="none" stroke-linejoin="round" stroke-linecap="round" opacity="1"/>
<polyline points="167.4,276.3 167.7,277.7" stroke="#172ca8" stroke-width="1.3" fill="none" stroke-linejoin="round" stroke-linecap="round" opacity="1"/>
<polyline points="106.7,295 107.8,298 108.8,294.2" stroke="#172ca8" stroke-width="1.3" fill="none" stroke-linejoin="round" stroke-linecap="round" opacity="1"/>
<polyline points="110.4,281.3 110.5,283.8" stroke="#172ca8" stroke-width="1.3" fill="none" stroke-linejoin="round" stroke-linecap="round" opacity="1"/>
<polyline points="111.3,290.9 112.3,295.9 113.4,292" stroke="#172ca8" stroke-width="1.3" fill="none" stroke-linejoin="round" stroke-linecap="round" opacity="1"/>
<polyline points="113.8,286.7 114.6,296 115.4,290 116.3,298.4" stroke="#172ca8" stroke-width="1.3" fill="none" stroke-linejoin="round" stroke-linecap="round" opacity="1"/>
<polyline points="117.1,286 118,292 118.8,285 119.8,296.7 120.8,289 121.7,293" stroke="#172ca8" stroke-width="1.3" fill="none" stroke-linejoin="round" stroke-linecap="round" opacity="1"/>
<polyline points="123,289.2 124,296 125,293 125.9,300.9" stroke="#172ca8" stroke-width="1.3" fill="none" stroke-linejoin="round" stroke-linecap="round" opacity="1"/>
<polyline points="127.1,288.4 127.2,295" stroke="#172ca8" stroke-width="1.3" fill="none" stroke-linejoin="round" stroke-linecap="round" opacity="1"/>
<polyline points="126.3,304.2 126.4,306.7" stroke="#172ca8" stroke-width="1.3" fill="none" stroke-linejoin="round" stroke-linecap="round" opacity="1"/>
<polyline points="130.9,289.2 131.8,297.5 132.6,292" stroke="#172ca8" stroke-width="1.3" fill="none" stroke-linejoin="round" stroke-linecap="round" opacity="1"/>
<polyline points="136.7,280 136.8,286.7" stroke="#172ca8" stroke-width="1.3" fill="none" stroke-linejoin="round" stroke-linecap="round" opacity="1"/>
<polyline points="138,291.7 139.5,296 140.5,294.5 141.8,300 143.4,305.1" stroke="#172ca8" stroke-width="1.3" fill="none" stroke-linejoin="round" stroke-linecap="round" opacity="1"/>
<polyline points="133.4,306.7 133.5,310" stroke="#172ca8" stroke-width="1.3" fill="none" stroke-linejoin="round" stroke-linecap="round" opacity="1"/>
<polyline points="145.4,288.4 146.3,295 147.5,291.7 149.2,294.2 150.9,291.7 152.5,292.5 153.8,297.6 154.6,294.2 155.9,299.2 156.7,295 157.5,300.1 158.8,291.7 159.6,287.1" stroke="#172ca8" stroke-width="1.3" fill="none" stroke-linejoin="round" stroke-linecap="round" opacity="1"/>
<polyline points="167.6,285.9 164.6,296.7" stroke="#172ca8" stroke-width="1.3" fill="none" stroke-linejoin="round" stroke-linecap="round" opacity="1"/>
<polyline points="167.6,276.7 167.7,277.5" stroke="#172ca8" stroke-width="1.3" fill="none" stroke-linejoin="round" stroke-linecap="round" opacity="1"/>
<polyline points="169.7,291.7 170.7,296 171.7,300.1" stroke="#172ca8" stroke-width="1.3" fill="none" stroke-linejoin="round" stroke-linecap="round" opacity="1"/>
<polyline points="173,285.9 174,288 175.1,291.7" stroke="#172ca8" stroke-width="1.3" fill="none" stroke-linejoin="round" stroke-linecap="round" opacity="1"/>
<polyline points="125.2,303.8 126.8,307.1" stroke="#172ca8" stroke-width="1.3" fill="none" stroke-linejoin="round" stroke-linecap="round" opacity="1"/>
<polyline points="132.9,306.4 134.5,312 135.3,309 136.1,316.9" stroke="#172ca8" stroke-width="1.3" fill="none" stroke-linejoin="round" stroke-linecap="round" opacity="1"/>
<polyline points="115.2,309.7 116.5,312.5 117.2,315.6" stroke="#172ca8" stroke-width="1.3" fill="none" stroke-linejoin="round" stroke-linecap="round" opacity="1"/>
<polyline points="109.3,308.4 110,309.7" stroke="#172ca8" stroke-width="1.3" fill="none" stroke-linejoin="round" stroke-linecap="round" opacity="1"/>
<polyline points="167.6,276.3 167.7,277.6" stroke="#172ca8" stroke-width="1.3" fill="none" stroke-linejoin="round" stroke-linecap="round" opacity="1"/>
<polyline points="136.1,277.6 137.5,286.1" stroke="#172ca8" stroke-width="1.3" fill="none" stroke-linejoin="round" stroke-linecap="round" opacity="1"/>
<polyline points="219.2,252.92 219.43,271.15 219.8,233.4 219.9,288.1 220.31,254.78 220.55,264.04 221.4,245.6 221.8,277.22 221.94,257.9 222.17,277.21 222.8,311.5 223.14,254.18 223.27,267.5 223.4,252.75 223.55,270.48 223.72,252.23 223.7,244.1 224.24,263.61 224.46,253.05 226.22,264.48 226.37,245.61 226.61,266.61 226.7,228.8 226.7,292 227.13,248.59 227.37,263.5 227.59,248.02 228.3,238 228.73,280.12 228.87,256.72 229.88,269.5 230.08,260.21 230.26,271.14 230.5,218.8 231,270.88 231.14,249.87 231.6,282.3 232.1,227.3 232.68,267.56 232.81,247.95 232.98,269.04 233.14,246.11 233.6,223.4 234.17,265.33 234.34,240.62 234.53,263.75 235.5,288.1 235.86,253.55 236.02,258.95 236.2,253.49 236.44,260.93 236.6,252.77 236.7,247.2 237.12,252.3 237.34,245.64 238.77,263.49 239,243.27 239.14,263.92 239.32,244.62 239.4,292 239.99,236.53 240.16,258.42 240.4,238.36 240.55,258.06 240.5,242.6 240.95,254.39 241.09,245.11 241.22,255.9 242.3,292 242.83,244.85 243.03,263.78 244.14,255.54 244.31,279 244.48,258.94 245.1,238 245.58,276.44 245.77,253.02 247.2,294 247.72,269.49 247.96,285.64 249.13,262.2 249.35,279.93 249.55,261.5 249.74,279.31 249.7,231.8 250.27,275.35 250.52,252.55 251.2,233.4 251.79,263.47 251.97,260.95 252.21,264.81 252.39,259.85 252.53,263.32 253.97,249.31 254.16,259.69 255,236.4 255,305.7 255.59,248.69 255.83,264.68 255.96,249.24 256.12,264.14 256.25,248.58 257.3,247.2 257.9,304.7 258.2,252.95 258.37,273.47 259.79,262.32 260,281.03 260.18,262.64 260.36,279.59 260.59,262.95 261.8,284.2 261.9,233.4 262.48,280.68 262.65,272.98 262.81,283.84 263.05,270.71 263.26,282.11 264.2,234.9 264.64,278.74 264.77,262.39 264.96,281.16 265.13,261.74 266.66,286.34 266.88,275.84 267.04,284.55 267.24,277.75 267.38,286.09 267.3,234.1 267.7,299.8 268.08,257.2 268.25,284.02 269.23,281.8 269.48,291.61 271.1,248.7 271.65,277.55 271.86,253.71 272.01,277.7 272.5,302.8 273.07,259.67 273.21,270.75 275.02,259.95 275.16,269.82 276.4,294 276.88,259.91 277.04,264.78 277.21,261.02 277.4,265.98 277.55,262.56 278.81,282.49 278.94,270.4 279.11,280.62 279.34,270.53 279.52,281.46 279.6,251.8 280.15,275.84 280.31,263.28 281,299.8 281.58,260.45 281.83,278.11 282.3,294 282.81,254.51 283.05,265.74 283.25,254.88 283.39,263.55 283.56,255.03 284.9,247.2 285.2,290.1 285.52,252.43 285.72,262.92 285.95,251.83 286.7,244.2 286.8,297.9 287.36,259.69 287.56,267.25 287.73,259.78 287.87,267 289.7,290.1 290.24,259.53 290.44,267.16 290.57,258.82 292.12,273.3 292.34,256.32 292.56,272.93 292.7,255.58 292.5,230 292.85,283.1 292.98,264.52 293.13,283.79 293.3,262.39 293.52,280.99 294,307.6 294.4,262.19 294.61,274.75 294.8,261.11 295.05,271.94 296.48,279.56 296.69,291.47 296.84,279.44 297.01,290.81 298.47,265.98 298.64,286.32 300,231.7 300.43,281.31 300.67,260.34 300.81,280.7 301.03,257.16 301.22,282.66 301.4,295.9 301.79,251.29 301.97,261.03 302.11,248.22 302.35,260.06 302.6,249.3 303.4,286.2 303.73,240.2 303.89,254.31 304.05,241.52 305,245 305.45,260.86 305.69,253.33 305.81,259.53 306.05,254.94 307.71,259.19 307.89,248.65 308.02,261.57 308.2,247.09 308.41,258.97 309.2,248.4 309.64,266.85 309.82,258.58 310.06,265.18 310.2,321.3 310.68,260.04 310.88,269.85 311.1,261.87 311.24,269.06 311.44,259.71 312.6,262 313.4,250 314.2,238 315,227 316,217.8 317,226 317.6,238 318.3,250 318.7,285 319,321 319.4,290 319.9,262 320.5,242 321.5,232 322.3,227.8 323.2,232 324.5,239 325.3,250 326,245 326.8,258 327.8,265.7 328.26,233.81 328.39,255.38 328.51,233.89 329.92,260.71 330.14,237.06 330.9,248.4 331.28,258.12 331.41,250.9 332.6,319.3 333.06,263.98 333.25,279.4 335.12,257.86 335.25,269.1 335.47,258.07 335.6,268.94 335.72,256.61 335.6,292 336.1,253.34 336.27,274.9 337.24,253.82 337.38,264.03 337.59,256.33 338.4,240.1 338.5,278.4 338.83,246.24 339.04,271.32 340.52,256.9 340.72,271.22 342,269.62 342.16,275.2 342.4,266.77 342.64,275.29 342.84,266.47 343.89,277.88 344.08,257.2 344.3,279.82 344.54,259.26 344.3,243.4 344.77,270.33 344.93,257.4 345.09,270.19 345.28,260.36 346.46,261.61 346.65,243.32 347.3,286.2 347.84,233.24 348.09,249.05 348.4,244.2 348.85,261.1 349.06,254 349.29,261.44 349.44,255.9" stroke="#1f379f" stroke-width="1.05" fill="none" stroke-linejoin="round" stroke-linecap="round" opacity="0.9"/>
<polyline points="410.1,216.1 412.2,231.5 414.3,244 415,249.7" stroke="#2844a6" stroke-width="1.0" fill="none" stroke-linejoin="round" stroke-linecap="round" opacity="1"/>
<polyline points="415.7,253.9 418,268 420.5,283.2" stroke="#2844a6" stroke-width="1.0" fill="none" stroke-linejoin="round" stroke-linecap="round" opacity="1"/>
<polyline points="419.8,276 420.6,283.5" stroke="#2844a6" stroke-width="1.6" fill="none" stroke-linejoin="round" stroke-linecap="round" opacity="1"/>
<polyline points="420.5,259.5 420.6,261.6" stroke="#2844a6" stroke-width="1.0" fill="none" stroke-linejoin="round" stroke-linecap="round" opacity="1"/>
<polyline points="420.5,197 421.2,213.4 421.4,222" stroke="#2844a6" stroke-width="1.0" fill="none" stroke-linejoin="round" stroke-linecap="round" opacity="1"/>
<polyline points="418.4,216 419.5,220 420.3,217 421.3,224 422.6,221 421.5,225.9" stroke="#2844a6" stroke-width="1.0" fill="none" stroke-linejoin="round" stroke-linecap="round" opacity="1"/>
<polyline points="423.3,225.9 426.8,231.5 428.9,235 431,236.3 433,247 435.2,265.8" stroke="#2844a6" stroke-width="1.0" fill="none" stroke-linejoin="round" stroke-linecap="round" opacity="1"/>
<polyline points="424,228.7 425.4,239.8 427.5,252 429.6,262.3" stroke="#2844a6" stroke-width="1.0" fill="none" stroke-linejoin="round" stroke-linecap="round" opacity="1"/>
<polyline points="430.3,264.4 431.7,277.6" stroke="#2844a6" stroke-width="1.0" fill="none" stroke-linejoin="round" stroke-linecap="round" opacity="1"/>
<polyline points="437.2,223.6 440,240.3" stroke="#2844a6" stroke-width="1.0" fill="none" stroke-linejoin="round" stroke-linecap="round" opacity="1"/>
<polyline points="440.6,219.1 443.4,225.8" stroke="#2844a6" stroke-width="1.0" fill="none" stroke-dasharray="3 1.5" stroke-linecap="round"/>
<polyline points="443.9,216.4 448.4,237.5" stroke="#2844a6" stroke-width="1.0" fill="none" stroke-dasharray="4 2" stroke-linecap="round"/>
<polyline points="445.6,222.5 445.7,229.2" stroke="#2844a6" stroke-width="1.0" fill="none" stroke-linejoin="round" stroke-linecap="round" opacity="1"/>
<polyline points="444.2,216.1 444.3,218.2" stroke="#2844a6" stroke-width="1.0" fill="none" stroke-linejoin="round" stroke-linecap="round" opacity="1"/>
<polyline points="450.6,217.5 451.7,222.5" stroke="#2844a6" stroke-width="1.5" fill="none" stroke-linejoin="round" stroke-linecap="round" opacity="1"/>
<polyline points="452.9,229.2 453.2,235.9" stroke="#2844a6" stroke-width="1.0" fill="none" stroke-linejoin="round" stroke-linecap="round" opacity="1"/>
<polyline points="454,216.9 456,226 458.1,236 459.4,244" stroke="#2844a6" stroke-width="1.0" fill="none" stroke-dasharray="5 1.5" stroke-linecap="round"/>
<polyline points="459.4,244 460.1,250 461.5,260.5 462.6,265.7 464.6,268.8 466.7,267.8 467.8,274.1 469.9,287.7 470.9,298.1 472,306.5 474.1,309.6 476.2,310.7 478.2,313.8 480.3,314.9 482.4,313.8" stroke="#2844a6" stroke-width="1.0" fill="none" stroke-linejoin="round" stroke-linecap="round" opacity="1"/>
<polyline points="455.1,237 456.2,248 457.8,259" stroke="#2844a6" stroke-width="1.0" fill="none" stroke-linejoin="round" stroke-linecap="round" opacity="1"/>
<polyline points="459,222.5 459.1,224.7" stroke="#2844a6" stroke-width="1.0" fill="none" stroke-linejoin="round" stroke-linecap="round" opacity="1"/>
<polyline points="462.9,216.9 465.7,228.1" stroke="#2844a6" stroke-width="1.0" fill="none" stroke-linejoin="round" stroke-linecap="round" opacity="1"/>
<polyline points="473.5,221.4 475.2,231.4" stroke="#2844a6" stroke-width="1.0" fill="none" stroke-linejoin="round" stroke-linecap="round" opacity="1"/>
<polyline points="478.5,221.4 479.6,230.3" stroke="#2844a6" stroke-width="1.0" fill="none" stroke-linejoin="round" stroke-linecap="round" opacity="1"/>
<polyline points="480.2,232 484,238.5 487.4,244.8" stroke="#2844a6" stroke-width="1.0" fill="none" stroke-linejoin="round" stroke-linecap="round" opacity="1"/>
<polyline points="440,240 440.2,241.5" stroke="#2844a6" stroke-width="1.0" fill="none" stroke-linejoin="round" stroke-linecap="round" opacity="1"/>
<polyline points="489.4,218.3 489.8,221.2" stroke="#2844a6" stroke-width="1.0" fill="none" stroke-linejoin="round" stroke-linecap="round" opacity="1"/>
<polyline points="492.5,221.2 493.5,226.1" stroke="#2844a6" stroke-width="1.0" fill="none" stroke-linejoin="round" stroke-linecap="round" opacity="1"/>
<polyline points="494.5,219.8 496.5,221.5 498.5,220.5 500.5,222.8 502.3,221.5 504.2,224.2" stroke="#2844a6" stroke-width="1.0" fill="none" stroke-dasharray="2.5 1.2" stroke-linecap="round"/>
<polyline points="502.3,221.8 503.2,223.8 504.2,222.2" stroke="#2844a6" stroke-width="1.5" fill="none" stroke-linejoin="round" stroke-linecap="round" opacity="1"/>
<polyline points="504.2,223.2 510,231 515,238.5 520,245 525.7,252.4" stroke="#2844a6" stroke-width="1.0" fill="none" stroke-linejoin="round" stroke-linecap="round" opacity="1"/>
<polyline points="510.1,219.3 510.3,221.2" stroke="#2844a6" stroke-width="1.0" fill="none" stroke-linejoin="round" stroke-linecap="round" opacity="1"/>
<polyline points="514,214.4 514.2,216.4" stroke="#2844a6" stroke-width="1.0" fill="none" stroke-linejoin="round" stroke-linecap="round" opacity="1"/>
<polyline points="519.8,220.3 520,222.2" stroke="#2844a6" stroke-width="1.0" fill="none" stroke-linejoin="round" stroke-linecap="round" opacity="1"/>
<polyline points="524.7,221.2 526.7,235.9" stroke="#2844a6" stroke-width="1.0" fill="none" stroke-linejoin="round" stroke-linecap="round" opacity="1"/>
<polyline points="527.6,217.3 530.6,223.2" stroke="#2844a6" stroke-width="1.0" fill="none" stroke-linejoin="round" stroke-linecap="round" opacity="1"/>
<polyline points="531.5,221.2 533.5,224.2" stroke="#2844a6" stroke-width="1.0" fill="none" stroke-linejoin="round" stroke-linecap="round" opacity="1"/>
<polyline points="536.4,221.2 540.3,227.1" stroke="#2844a6" stroke-width="1.0" fill="none" stroke-linejoin="round" stroke-linecap="round" opacity="1"/>
<polyline points="539.3,216.4 539.5,217.8" stroke="#2844a6" stroke-width="1.0" fill="none" stroke-linejoin="round" stroke-linecap="round" opacity="1"/>
<rect x="43" y="18" width="133.5" height="137.2" stroke="#939393" stroke-width="1.0" fill="none"/>
<rect x="224.5" y="19.3" width="133.1" height="137.2" stroke="#939393" stroke-width="1.0" fill="none"/>
<rect x="409.6" y="19.4" width="132.8" height="137.2" stroke="#939393" stroke-width="1.0" fill="none"/>
<rect x="44.2" y="192.5" width="132.4" height="128.2" stroke="#939393" stroke-width="1.0" fill="none"/>
<rect x="218.7" y="193.4" width="132.1" height="128.2" stroke="#939393" stroke-width="1.0" fill="none"/>
<rect x="410.1" y="193.5" width="132.9" height="128.8" stroke="#939393" stroke-width="1.0" fill="none"/>
<text x="109.8" y="15.2" font-size="13" text-anchor="middle" fill="#202020" >GEO satellite</text>
<text x="291" y="15.3" font-size="13" text-anchor="middle" fill="#202020" >GEO satellite</text>
<text x="476" y="15.4" font-size="13" text-anchor="middle" fill="#202020" >GEO satellite</text>
<text x="110.8" y="188.6" font-size="13" text-anchor="middle" fill="#202020" >NGEO satellite</text>
<text x="284.7" y="189" font-size="13" text-anchor="middle" fill="#202020" >NGEO satellite</text>
<text x="477" y="189.4" font-size="13" text-anchor="middle" fill="#202020" >NGEO satellite</text>
<text transform="translate(15,86.8) rotate(-90)" x="0" y="0" font-size="13" text-anchor="middle" fill="#202020">Time delay (m)</text>
<text transform="translate(199.5,88) rotate(-90)" x="0" y="0" font-size="13" text-anchor="middle" fill="#202020">Power attenuation (dB)</text>
<text transform="translate(379.3,88) rotate(-90)" x="0" y="0" font-size="13" text-anchor="middle" fill="#202020">Carrier phase change (°)</text>
<text transform="translate(16.7,256.4) rotate(-90)" x="0" y="0" font-size="13" text-anchor="middle" fill="#202020">Time delay (m)</text>
<text transform="translate(194.6,258.1) rotate(-90)" x="0" y="0" font-size="12.8" text-anchor="middle" fill="#202020">Power attenuation (dB)</text>
<text transform="translate(371.5,258) rotate(-90)" x="0" y="0" font-size="12.75" text-anchor="middle" fill="#202020">Carrier phase change (°)</text>
<text x="110.9" y="351.5" font-size="13" text-anchor="middle" fill="#202020" >Time (s)</text>
<text x="284.7" y="351.5" font-size="13" text-anchor="middle" fill="#202020" >Time (s)</text>
<text x="476.8" y="351.5" font-size="13" text-anchor="middle" fill="#202020" >Time (s)</text>
<text x="38.6" y="22.32" font-size="12" text-anchor="end" fill="#202020" >400</text>
<text x="38.6" y="56.62" font-size="12" text-anchor="end" fill="#202020" >300</text>
<text x="38.6" y="90.92" font-size="12" text-anchor="end" fill="#202020" >200</text>
<text x="38.6" y="125.22" font-size="12" text-anchor="end" fill="#202020" >100</text>
<text x="38.6" y="159.52" font-size="12" text-anchor="end" fill="#202020" >0</text>
<text x="220.2" y="23.62" font-size="12" text-anchor="end" fill="#202020" >0</text>
<text x="220.2" y="69.35" font-size="12" text-anchor="end" fill="#202020" >-10</text>
<text x="220.2" y="115.09" font-size="12" text-anchor="end" fill="#202020" >-20</text>
<text x="220.2" y="160.82" font-size="12" text-anchor="end" fill="#202020" >-30</text>
<text x="405" y="23.72" font-size="12" text-anchor="end" fill="#202020" >200</text>
<text x="405" y="51.16" font-size="12" text-anchor="end" fill="#202020" >100</text>
<text x="405" y="78.6" font-size="12" text-anchor="end" fill="#202020" >0</text>
<text x="405" y="106.04" font-size="12" text-anchor="end" fill="#202020" >-100</text>
<text x="405" y="133.48" font-size="12" text-anchor="end" fill="#202020" >-200</text>
<text x="405" y="160.92" font-size="12" text-anchor="end" fill="#202020" >-300</text>
<text x="39.2" y="228.69" font-size="11.5" text-anchor="end" fill="#202020" >300</text>
<text x="39.2" y="260.74" font-size="11.5" text-anchor="end" fill="#202020" >200</text>
<text x="39.2" y="292.79" font-size="11.5" text-anchor="end" fill="#202020" >100</text>
<text x="39.2" y="324.84" font-size="11.5" text-anchor="end" fill="#202020" >0</text>
<text x="214.6" y="197.54" font-size="11.5" text-anchor="end" fill="#202020" >0</text>
<text x="214.6" y="223.18" font-size="11.5" text-anchor="end" fill="#202020" >-5</text>
<text x="214.6" y="248.82" font-size="11.5" text-anchor="end" fill="#202020" >-10</text>
<text x="214.6" y="274.46" font-size="11.5" text-anchor="end" fill="#202020" >-15</text>
<text x="214.6" y="300.1" font-size="11.5" text-anchor="end" fill="#202020" >-20</text>
<text x="214.6" y="325.74" font-size="11.5" text-anchor="end" fill="#202020" >-25</text>
<text x="405.8" y="197.64" font-size="11.5" text-anchor="end" fill="#202020" >1000</text>
<text x="405.8" y="223.4" font-size="11.5" text-anchor="end" fill="#202020" >0</text>
<text x="405.8" y="249.16" font-size="11.5" text-anchor="end" fill="#202020" >-1000</text>
<text x="405.8" y="274.92" font-size="11.5" text-anchor="end" fill="#202020" >-2000</text>
<text x="405.8" y="300.68" font-size="11.5" text-anchor="end" fill="#202020" >-3000</text>
<text x="405.8" y="326.44" font-size="11.5" text-anchor="end" fill="#202020" >-4000</text>
<text x="44.2" y="336.3" font-size="11.5" text-anchor="middle" fill="#202020" >0</text>
<text x="85.57" y="336.3" font-size="11.5" text-anchor="middle" fill="#202020" >500</text>
<text x="126.95" y="336.3" font-size="11.5" text-anchor="middle" fill="#202020" >1000</text>
<text x="168.32" y="336.3" font-size="11.5" text-anchor="middle" fill="#202020" >1500</text>
<text x="218.7" y="336.3" font-size="11.5" text-anchor="middle" fill="#202020" >0</text>
<text x="259.98" y="336.3" font-size="11.5" text-anchor="middle" fill="#202020" >500</text>
<text x="301.26" y="336.3" font-size="11.5" text-anchor="middle" fill="#202020" >1000</text>
<text x="342.54" y="336.3" font-size="11.5" text-anchor="middle" fill="#202020" >1500</text>
<text x="410.1" y="336.3" font-size="11.5" text-anchor="middle" fill="#202020" >0</text>
<text x="451.63" y="336.3" font-size="11.5" text-anchor="middle" fill="#202020" >500</text>
<text x="493.16" y="336.3" font-size="11.5" text-anchor="middle" fill="#202020" >1000</text>
<text x="534.69" y="336.3" font-size="11.5" text-anchor="middle" fill="#202020" >1500</text>
<path d="M75.8 51.9L88.73 38.65" stroke="#d41c26" stroke-width="1.5" fill="none"/>
<path d="M91.8 35.5L90.1 41.39L85.95 37.34Z" fill="#d41c26"/>
<path d="M134.2 49.8L122 41.98" stroke="#d41c26" stroke-width="1.5" fill="none"/>
<path d="M118.3 39.6L124.41 40.07L121.28 44.96Z" fill="#d41c26"/>
<path d="M62.6 110.9L89.94 84.46" stroke="#d41c26" stroke-width="1.5" fill="none"/>
<path d="M93.1 81.4L91.23 87.24L87.2 83.07Z" fill="#d41c26"/>
<path d="M161 107.6L126.99 83.45" stroke="#d41c26" stroke-width="1.5" fill="none"/>
<path d="M123.4 80.9L129.48 81.66L126.12 86.39Z" fill="#d41c26"/>
<path d="M116.7 103L131.24 114.39" stroke="#d41c26" stroke-width="1.5" fill="none"/>
<path d="M134.7 117.1L128.66 116.05L132.24 111.49Z" fill="#d41c26"/>
<path d="M73.3 132.7L82.93 125.77" stroke="#d41c26" stroke-width="1.5" fill="none"/>
<path d="M86.5 123.2L83.81 128.71L80.42 124Z" fill="#d41c26"/>
<text x="95.6" y="37" font-size="10" text-anchor="start" fill="#202020" >MP1</text>
<text x="97.2" y="80.5" font-size="10" text-anchor="start" fill="#202020" >MP2</text>
<text x="138.6" y="125" font-size="10" text-anchor="start" fill="#202020" >MP3</text>
<text x="89.2" y="127.3" font-size="10" text-anchor="start" fill="#202020" >MP4</text>
<path d="M281.8 36.8L296.13 44.51" stroke="#d41c26" stroke-width="1.5" fill="none"/>
<path d="M300 46.6L293.87 46.59L296.62 41.49Z" fill="#d41c26"/>
<path d="M268 60.8L279.36 66.44" stroke="#d41c26" stroke-width="1.5" fill="none"/>
<path d="M283.3 68.4L277.17 68.59L279.75 63.4Z" fill="#d41c26"/>
<path d="M325.4 59.6L314.77 64.7" stroke="#d41c26" stroke-width="1.5" fill="none"/>
<path d="M310.8 66.6L314.42 61.65L316.92 66.88Z" fill="#d41c26"/>
<path d="M287.3 87.5L272.13 84.78" stroke="#d41c26" stroke-width="1.5" fill="none"/>
<path d="M267.8 84L273.63 82.1L272.6 87.81Z" fill="#d41c26"/>
<path d="M265.9 109L299.44 127.39" stroke="#d41c26" stroke-width="1.5" fill="none"/>
<path d="M303.3 129.5L297.17 129.45L299.96 124.36Z" fill="#d41c26"/>
<path d="M318.3 104.1L318.3 120.2" stroke="#d41c26" stroke-width="1.5" fill="none"/>
<path d="M318.3 124.6L315.4 119.2L321.2 119.2Z" fill="#d41c26"/>
<text x="303.4" y="50.7" font-size="10" text-anchor="start" fill="#202020" >MP4</text>
<text x="286.8" y="72.8" font-size="10" text-anchor="start" fill="#202020" >MP2</text>
<text x="243.4" y="86.6" font-size="10" text-anchor="start" fill="#202020" >MP3</text>
<text x="308.1" y="135.9" font-size="10" text-anchor="start" fill="#202020" >MP1</text>
<path d="M448.2 45.9L461.02 58.16" stroke="#d41c26" stroke-width="1.5" fill="none"/>
<path d="M464.2 61.2L458.29 59.56L462.3 55.37Z" fill="#d41c26"/>
<path d="M482 39.3L499.73 37.29" stroke="#d41c26" stroke-width="1.5" fill="none"/>
<path d="M504.1 36.8L499.06 40.29L498.41 34.53Z" fill="#d41c26"/>
<path d="M509 64.6L496.92 62.24" stroke="#d41c26" stroke-width="1.5" fill="none"/>
<path d="M492.6 61.4L498.46 59.59L497.34 65.28Z" fill="#d41c26"/>
<path d="M490.5 84.3L507.19 94.94" stroke="#d41c26" stroke-width="1.5" fill="none"/>
<path d="M510.9 97.3L504.79 96.84L507.9 91.95Z" fill="#d41c26"/>
<path d="M435 66.7L444.42 119.17" stroke="#d41c26" stroke-width="1.5" fill="none"/>
<path d="M445.2 123.5L441.39 118.7L447.1 117.67Z" fill="#d41c26"/>
<path d="M495.6 127.8L471.05 131.62" stroke="#d41c26" stroke-width="1.5" fill="none"/>
<path d="M466.7 132.3L471.59 128.6L472.48 134.33Z" fill="#d41c26"/>
<text x="509.4" y="39.4" font-size="10" text-anchor="start" fill="#202020" >MP3</text>
<text x="466.9" y="66.9" font-size="10" text-anchor="start" fill="#202020" >MP2</text>
<text x="506.4" y="108.9" font-size="10" text-anchor="start" fill="#202020" >MP4</text>
<text x="442.3" y="135.2" font-size="10" text-anchor="start" fill="#202020" >MP1</text>
<path d="M85.5 311L61.49 333.87" stroke="#d41c26" stroke-width="1.5" fill="none"/>
<path d="M58.3 336.9L60.21 331.08L64.21 335.28Z" fill="#d41c26"/>
<path d="M117.2 313L151.86 336.44" stroke="#d41c26" stroke-width="1.5" fill="none"/>
<path d="M155.5 338.9L149.4 338.28L152.65 333.47Z" fill="#d41c26"/>
<text x="48.8" y="347" font-size="10" text-anchor="start" fill="#202020" >MP <tspan font-style="italic" dx="0.7">i</tspan></text>
<text x="152.7" y="347.3" font-size="10" text-anchor="start" fill="#202020" >MP <tspan font-style="italic" dx="0.7">j</tspan></text>
<path d="M261.8 250L252.81 218.43" stroke="#d41c26" stroke-width="1.5" fill="none"/>
<path d="M251.6 214.2L255.87 218.6L250.29 220.19Z" fill="#d41c26"/>
<path d="M291 252L298.19 213.53" stroke="#d41c26" stroke-width="1.5" fill="none"/>
<path d="M299 209.2L300.86 215.04L295.16 213.98Z" fill="#d41c26"/>
<text x="238.4" y="211.6" font-size="10" text-anchor="start" fill="#202020" >MP <tspan font-style="italic" dx="0.7">i</tspan></text>
<text x="291.8" y="204.3" font-size="10" text-anchor="start" fill="#202020" >MP <tspan font-style="italic" dx="0.7">j</tspan></text>
<path d="M452.2 222.9L452.2 212.3" stroke="#d41c26" stroke-width="1.5" fill="none"/>
<path d="M452.2 207.9L455.1 213.3L449.3 213.3Z" fill="#d41c26"/>
<path d="M483.8 220.3L497.93 208.43" stroke="#d41c26" stroke-width="1.5" fill="none"/>
<path d="M501.3 205.6L499.03 211.29L495.3 206.85Z" fill="#d41c26"/>
<text x="439.4" y="206.2" font-size="10" text-anchor="start" fill="#202020" >MP <tspan font-style="italic" dx="0.7">i</tspan></text>
<text x="497.4" y="203.6" font-size="10" text-anchor="start" fill="#202020" >MP <tspan font-style="italic" dx="0.7">j</tspan></text>
</svg>
</body></html>
